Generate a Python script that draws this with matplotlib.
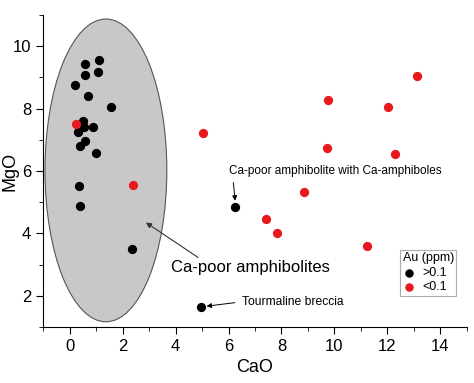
import matplotlib
matplotlib.use('Agg')
import matplotlib.pyplot as plt
from matplotlib.patches import Ellipse
from matplotlib.ticker import MultipleLocator

plt.rcParams['font.family'] = ['Liberation Sans', 'DejaVu Sans']

# Au > 0.1 ppm
cao_hi = [0.19, 0.59, 1.10, 0.59, 1.07, 0.70, 1.56, 0.51, 0.53, 0.89, 0.33,
          0.59, 0.39, 0.98, 0.34, 0.41, 2.35, 4.95, 6.25]
mgo_hi = [8.74, 9.43, 9.57, 9.07, 9.17, 8.40, 8.05, 7.59, 7.42, 7.42, 7.24,
          6.95, 6.80, 6.58, 5.53, 4.88, 3.50, 1.64, 4.86]
# Au < 0.1 ppm
cao_lo = [0.24, 2.40, 5.02, 13.11, 9.77, 12.01, 9.72, 12.30, 8.86, 7.40, 7.82, 11.22]
mgo_lo = [7.51, 5.55, 7.22, 9.03, 8.29, 8.04, 6.74, 6.53, 5.32, 4.47, 4.00, 3.60]

fig = plt.figure(figsize=(4.74, 3.83), dpi=100)
ax = fig.add_axes([0.091, 0.146, 0.894, 0.815])

ax.add_patch(Ellipse((1.37, 6.02), 4.6, 9.7, facecolor='#c8c8c8',
                     edgecolor='#555555', linewidth=0.8, zorder=1))

ax.scatter(cao_hi, mgo_hi, s=32, color='black', zorder=3, label='>0.1')
ax.scatter(cao_lo, mgo_lo, s=32, color='#e8191e', zorder=3, label='<0.1')

ax.annotate('Ca-poor amphibolites', xy=(2.88, 4.35), xytext=(3.81, 2.9),
            fontsize=12, va='center', ha='left',
            arrowprops=dict(arrowstyle='-|>', color='#333333', lw=0.8,
                            shrinkA=0, shrinkB=0, mutation_scale=8,
                            relpos=(0.2, 1.0)))
ax.annotate('Ca-poor amphibolite with Ca-amphiboles', xy=(6.25, 5.05),
            xytext=(6.0, 6.0), fontsize=8.5, va='center', ha='left',
            arrowprops=dict(arrowstyle='-|>', color='black', lw=0.7,
                            shrinkA=2, shrinkB=0, mutation_scale=7,
                            relpos=(0.02, 0.0)))
ax.annotate('Tourmaline breccia', xy=(5.17, 1.67), xytext=(6.5, 1.81),
            fontsize=8.7, va='center', ha='left',
            arrowprops=dict(arrowstyle='-|>', color='black', lw=0.7,
                            shrinkA=3, shrinkB=0, mutation_scale=7,
                            relpos=(0.0, 0.5)))

ax.set_xlim(-1, 15)
ax.set_ylim(1, 11)
ax.xaxis.set_major_locator(MultipleLocator(2))
ax.xaxis.set_minor_locator(MultipleLocator(1))
ax.yaxis.set_major_locator(MultipleLocator(2))
ax.yaxis.set_minor_locator(MultipleLocator(1))
ax.spines['top'].set_visible(False)
ax.spines['right'].set_visible(False)
ax.tick_params(which='major', direction='out', length=5, labelsize=12)
ax.tick_params(which='minor', direction='out', length=3)
ax.set_xlabel('CaO', fontsize=13)
ax.set_ylabel('MgO', fontsize=13)
ax.yaxis.set_label_coords(-0.058, 0.5)

leg = ax.legend(title='Au (ppm)', loc='lower right', bbox_to_anchor=(0.99, 0.08),
                fontsize=9, title_fontsize=9, frameon=True, fancybox=False,
                edgecolor='#999999', handletextpad=0.6, borderpad=0.2,
                labelspacing=0.2, handlelength=1.0, markerscale=0.9)
leg._legend_box.align = 'left'
leg.get_frame().set_linewidth(0.8)

fig.savefig('out.png', dpi=100)
